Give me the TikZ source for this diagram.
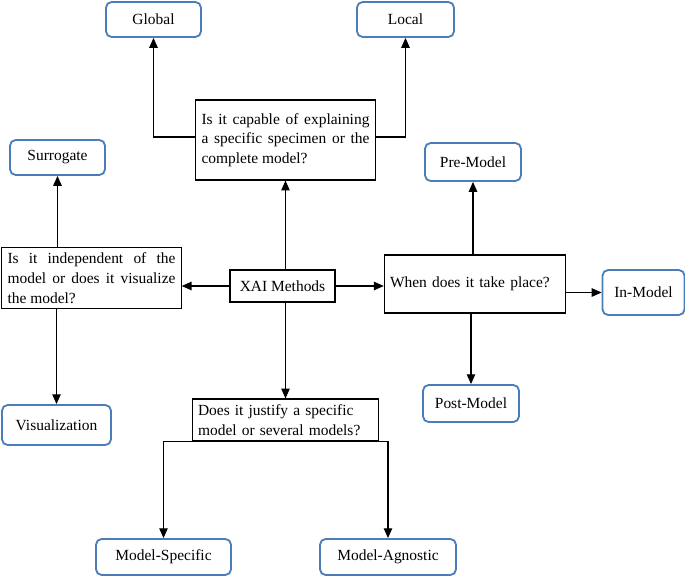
\documentclass[tikz,border=0pt]{standalone}
\usepackage{fontspec}
\setmainfont{Liberation Serif}
\usetikzlibrary{calc,arrows.meta}
\definecolor{leafblue}{RGB}{74,126,187}
\tikzset{
  leaf/.style={draw=leafblue, line width=1.3pt, rounded corners=4pt, font=\fontsize{11}{13}\selectfont, align=center},
  quest/.style={draw, thick, font=\fontsize{11}{14}\selectfont, align=justify, inner sep=4pt},
  link/.style={thick, -{Triangle[length=7pt,width=6pt]}}
}
\begin{document}
\begin{tikzpicture}[x=0.025cm, y=-0.025cm]
  \useasboundingbox (0,0) rectangle (685,581);

  \node[leaf, minimum width=95*0.025cm, minimum height=35*0.025cm] (global) at (153.5,19.5) {Global};
  \node[leaf, minimum width=97*0.025cm, minimum height=35*0.025cm] (local) at (405.5,19.5) {Local};
  \node[leaf, minimum width=95*0.025cm, minimum height=35*0.025cm] (surr) at (57.5,157.5) {Surrogate};
  \node[leaf, minimum width=96*0.025cm, minimum height=38*0.025cm] (pre) at (473,162) {Pre-Model};
  \node[leaf, minimum width=82*0.025cm, minimum height=45*0.025cm] (in) at (643.5,292.5) {In-Model};
  \node[leaf, minimum width=109*0.025cm, minimum height=40*0.025cm] (vis) at (56.5,425) {Visualization};
  \node[leaf, minimum width=96*0.025cm, minimum height=37*0.025cm] (post) at (471,403.5) {Post-Model};
  \node[leaf, minimum width=135*0.025cm, minimum height=36*0.025cm] (spec) at (163.5,557) {Model-Specific};
  \node[leaf, minimum width=136*0.025cm, minimum height=36*0.025cm] (agn) at (388,557) {Model-Agnostic};

  \node[draw, thick, font=\fontsize{11}{13}\selectfont, minimum width=105*0.025cm, minimum height=32*0.025cm] (xai) at (282.5,286) {XAI Methods};
  \node[quest, text width=168*0.025cm, minimum height=80*0.025cm] (qtop) at (285.5,140)
    {Is it capable of explaining a specific specimen or the complete model?};
  \node[quest, text width=168*0.025cm, minimum height=54*0.025cm] (qleft) at (91.5,278)
    {Is it independent of the model or does it visualize the model?};
  \node[quest, text width=170*0.025cm, minimum height=58*0.025cm, align=left] (qright) at (475,284)
    {When does it take place?};
  \node[quest, text width=175*0.025cm, minimum height=34*0.025cm, align=left] (qbot) at (285.5,420)
    {Does it justify a specific model or several models?};

  \draw[link] (xai.north -| qtop) -- (qtop);
  \draw[link] (xai.west) -- (xai.west -| qleft.east);
  \draw[link] (xai.east) -- (xai.east -| qright.west);
  \draw[link] (xai.south -| qbot) -- (qbot);

  \draw[link] (qtop.west |- 0,137) -| (global);
  \draw[link] (qtop.east |- 0,137) -| (local);
  \draw[link] (qleft.north -| surr) -- (surr);
  \draw[link] (qleft.south -| vis) -- (vis);
  \draw[link] (qright.north -| pre) -- (pre);
  \draw[link] (qright.south -| post) -- (post);
  \draw[link] (qright.east |- in) -- (in);
  \draw[link] (qbot.south west) -| (spec);
  \draw[link] (qbot.south east) -| (agn);
\end{tikzpicture}
\end{document}
